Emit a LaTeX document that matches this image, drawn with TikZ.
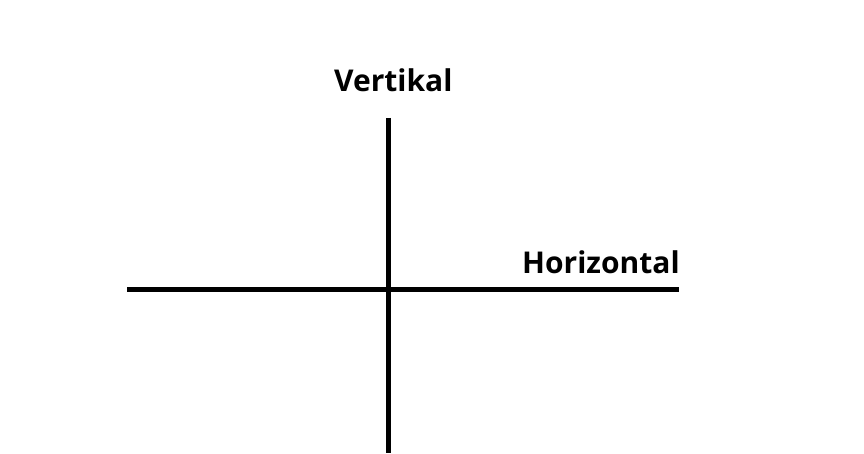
\documentclass[tikz,border=0pt]{standalone}
\usepackage{fontspec}
\setmainfont{Open Sans}
\begin{document}
\begin{tikzpicture}[x=1pt,y=-1pt,
  axis/.style={line width=4.5pt},
  lbl/.style={font=\fontsize{30}{33}\selectfont\bfseries, inner sep=0pt, anchor=base west}]
\useasboundingbox (0,0) rectangle (864,454);
\fill[white] (0,0) rectangle (864,454);
\coordinate (vt) at (388.5,118);
\coordinate (vb) at (388.5,453);
\coordinate (hl) at (127,289.5);
\coordinate (hr) at (679,289.5);
\draw[axis] (vt) -- (vb);
\draw[axis] (hl) -- (hr);
\node[lbl] (vlab) at (334,92) {Vertikal};
\node[lbl] (hlab) at (522,273) {Horizontal};
\end{tikzpicture}
\end{document}
